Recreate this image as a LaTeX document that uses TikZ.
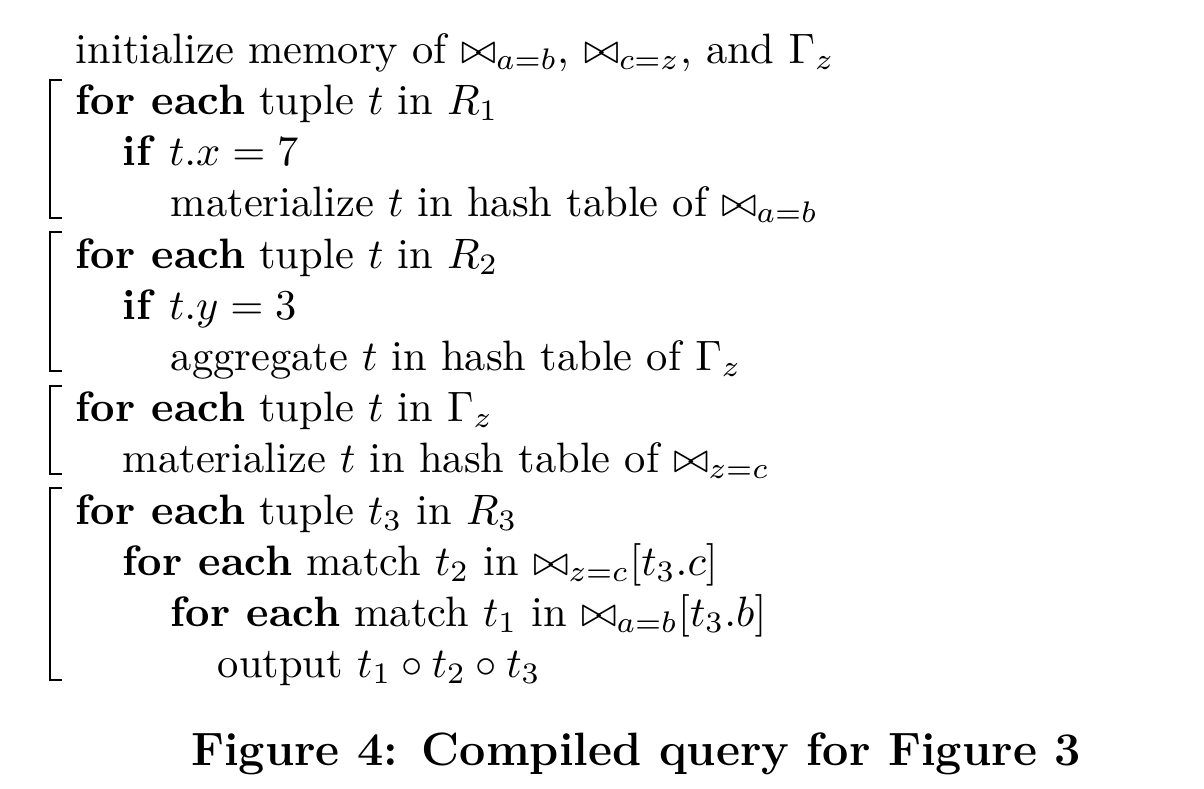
\documentclass[tikz,border=0pt]{standalone}
\usepackage{amsmath}
\begin{document}
\begin{tikzpicture}[x=0.2353pt,y=-0.2353pt,
  ln/.style={anchor=base west,inner sep=0pt,font=\fontsize{10}{12}\selectfont},
  br/.style={line width=0.35pt}]
\useasboundingbox (0,0) rectangle (1204,788);
\def\J{\mathord{\bowtie}}
\node[ln] (l1) at (75,63) {initialize memory of $\J_{a=b}$, $\J_{c=z}$, and $\Gamma_z$};
\node[ln] (l2) at (75,114) {\textbf{for each} tuple $t$ in $R_1$};
\node[ln] (l3) at (122,165) {\textbf{if} $t.x=7$};
\node[ln] (l4) at (170,216) {materialize $t$ in hash table of $\J_{a=b}$};
\node[ln] (l5) at (75,268) {\textbf{for each} tuple $t$ in $R_2$};
\node[ln] (l6) at (122,319) {\textbf{if} $t.y=3$};
\node[ln] (l7) at (170,370) {aggregate $t$ in hash table of $\Gamma_z$};
\node[ln] (l8) at (75,421) {\textbf{for each} tuple $t$ in $\Gamma_z$};
\node[ln] (l9) at (122,472) {materialize $t$ in hash table of $\J_{z=c}$};
\node[ln] (l10) at (75,524) {\textbf{for each} tuple $t_3$ in $R_3$};
\node[ln] (l11) at (122,575) {\textbf{for each} match $t_2$ in $\J_{z=c}[t_3.c]$};
\node[ln] (l12) at (170,626) {\textbf{for each} match $t_1$ in $\J_{a=b}[t_3.b]$};
\node[ln] (l13) at (217,677) {output $t_1\circ t_2\circ t_3$};
\node[anchor=base,inner sep=0pt,font=\fontsize{11}{13}\selectfont\bfseries] (cap) at (636,765) {Figure 4: Compiled query for Figure 3};
\foreach \a/\b in {80/218,232/371,386/474,488/680}
  \draw[br] (62,\a) -- (50,\a) -- (50,\b) -- (62,\b);
\end{tikzpicture}
\end{document}
